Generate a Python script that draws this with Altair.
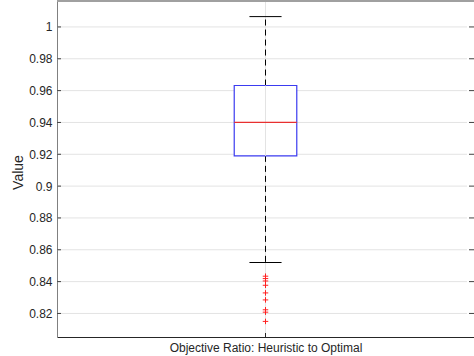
import altair as alt
import pandas as pd

# Box-plot summary values
q1 = [0.919]
median = [0.940]
q3 = [0.9632]
whisker_low = [0.852]
whisker_high = [1.0065]
outliers = [0.8434, 0.8419, 0.8404, 0.8377, 0.8329, 0.8285, 0.8223, 0.8208, 0.8150]
y_ticks = [0.82, 0.84, 0.86, 0.88, 0.90, 0.92, 0.94, 0.96, 0.98, 1.0]
x_label = "Objective Ratio: Heuristic to Optimal"

FONT = "Liberation Sans"
YDOM = [0.8052, 1.0163]
XDOM = [0.5, 1.5]

box = pd.DataFrame({"x": [0.925], "x2": [1.075], "q1": q1, "q3": q3, "med": median, "c": [1.0]})
whisk = pd.DataFrame({
    "x": [1.0, 1.0], "a": [q3[0], q1[0]], "b": [whisker_high[0], whisker_low[0]],
    "cx": [0.9615, 0.9615], "cx2": [1.0385, 1.0385],
})
out_df = pd.DataFrame({"x": [1.0] * len(outliers), "v": outliers})
ticks_df = pd.DataFrame({"t": y_ticks})

yscale = alt.Scale(domain=YDOM, nice=False, zero=False)
xscale = alt.Scale(domain=XDOM, nice=False, zero=False)

yaxis = alt.Axis(values=y_ticks, format=".2~f", grid=False, ticks=False,
                 labelOverlap=False, labelBound=False, labelFlush=False,
                 labelPadding=5, labelFontSize=12, labelFont=FONT, labelColor="#262626",
                 domainColor="#808080", domainWidth=1,
                 title="Value", titleFont=FONT, titleFontSize=14, titleFontWeight="normal",
                 titleColor="#262626", titleX=-39, titleY=171, titleBaseline="middle",
                 titleAngle=-90, titleAlign="center")
xaxis = alt.Axis(labels=False, ticks=False, grid=False, domainColor="#262626",
                 title=x_label, titleFont=FONT, titleFontSize=12,
                 titleFontWeight="normal", titleColor="#262626",
                 titleBaseline="middle", titleY=10)


def Y(f):
    return alt.Y(f, scale=yscale, axis=yaxis, title="Value")


def X(f):
    return alt.X(f, scale=xscale, axis=xaxis, title=x_label)


grid = alt.Chart(ticks_df).mark_rule(color="#e3e3e3", strokeWidth=1).encode(
    y=Y("t:Q"), x=alt.value(0), x2=alt.value(410),
)

inner_ticks = alt.Chart(ticks_df).mark_rule(color="#404040", strokeWidth=1).encode(
    y=Y("t:Q"), x=alt.value(0), x2=alt.value(4),
)

right_ticks = alt.Chart(ticks_df).mark_rule(color="#404040", strokeWidth=1).encode(
    y=Y("t:Q"), x=alt.value(412), x2=alt.value(417),
)

top_border = alt.Chart(box).mark_rule(color="#a0a0a0", strokeWidth=2).encode(
    x=alt.value(0), x2=alt.value(417), y=alt.value(0),
)

vgrid = alt.Chart(box).mark_rule(color="#e3e3e3", strokeWidth=1).encode(
    x=X("c:Q"), y=alt.value(0), y2=alt.value(336),
)

bottom_tick = alt.Chart(box).mark_rule(color="#262626", strokeWidth=1).encode(
    x=X("c:Q"), y=alt.value(332), y2=alt.value(336),
)

whisker_lines = alt.Chart(whisk).mark_rule(color="black", strokeWidth=1, strokeDash=[6, 4]).encode(
    x=X("x:Q"), y=Y("a:Q"), y2="b:Q",
)

caps = alt.Chart(whisk).mark_rule(color="black", strokeWidth=1).encode(
    x=X("cx:Q"), x2="cx2:Q", y=Y("b:Q"),
)

box_rect = alt.Chart(box).mark_rect(fill="white", stroke="#3b3bf0", strokeWidth=1.2).encode(
    x=X("x:Q"), x2="x2:Q", y=Y("q1:Q"), y2="q3:Q",
)

box_vgrid = alt.Chart(box).mark_rule(color="#e3e3e3", strokeWidth=1).encode(
    x=X("c:Q"), y=Y("q1:Q"), y2="q3:Q",
)

med_rule = alt.Chart(box).mark_rule(color="#e83030", strokeWidth=1.2).encode(
    x=X("x:Q"), x2="x2:Q", y=Y("med:Q"),
)

out_pts = alt.Chart(out_df).mark_point(
    shape="M-1,0L1,0M0,-1L0,1", filled=False, stroke="#ff2020", strokeWidth=1, size=30, opacity=1,
).encode(
    x=X("x:Q"), y=Y("v:Q"),
)

chart = alt.layer(
    grid, vgrid, inner_ticks, right_ticks, top_border, bottom_tick, whisker_lines, caps,
    box_rect, box_vgrid, med_rule, out_pts,
).properties(
    width=417, height=336,
    autosize=alt.AutoSizeParams(type="none"),
    padding={"left": 57, "top": 1, "right": 0, "bottom": 19},
    background="white",
).configure_view(strokeWidth=0).configure_axisY(labelOverlap=False)

chart.save("out.html", embed_options={"renderer": "svg", "actions": False})
